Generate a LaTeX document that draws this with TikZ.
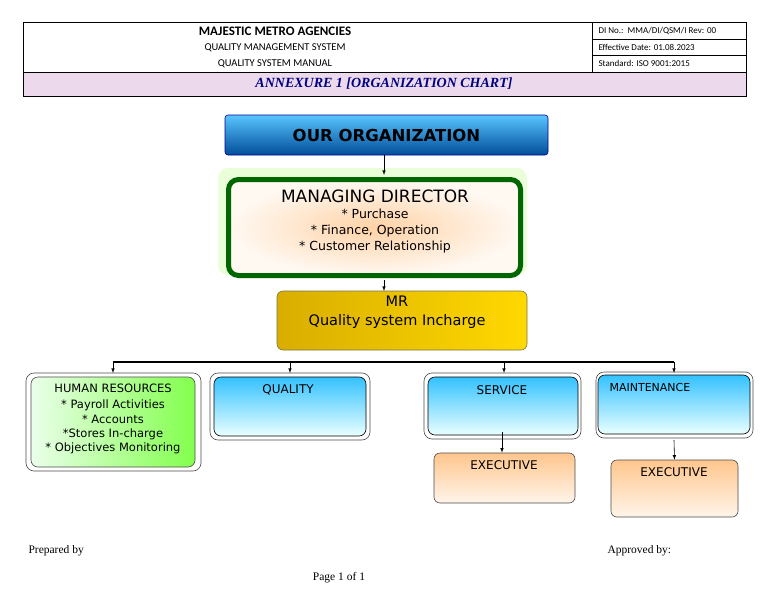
\documentclass[tikz,border=0pt]{standalone}
\usepackage{fontspec}
\setmainfont{DejaVu Sans}
\newfontfamily\hdr{Carlito}
\newfontfamily\tms{Liberation Serif}
\begin{document}
\begin{tikzpicture}[x=1pt,y=-1pt,
 arr/.style={-latex,black,line width=0.6pt},
 outerb/.style={draw=black!70,line width=0.6pt,rounded corners=8pt,fill=white},
 blueb/.style={draw=black,line width=0.6pt,rounded corners=7pt,top color=cyan!70!blue!80,bottom color=cyan!8},
 exb/.style={draw=black!70,line width=0.6pt,rounded corners=6pt,top color=orange!45,bottom color=orange!8},
 lbl/.style={font=\fontsize{12}{14}\selectfont,align=center}]
\useasboundingbox (0,0) rectangle (768,594);
\fill[white] (0,0) rectangle (768,594);
% header
\fill[violet!15] (23,72) rectangle (746,96);
\draw[line width=0.6pt] (23,22) rectangle (746,96);
\draw[line width=0.6pt] (23,72) -- (746,72);
\draw[line width=0.6pt] (592,22) -- (592,72);
\draw[line width=0.6pt] (592,39) -- (746,39) (592,55) -- (746,55);
\node[font=\hdr\bfseries\fontsize{13}{15}\selectfont] (h1) at (275,31) {MAJESTIC METRO AGENCIES};
\node[font=\hdr\fontsize{10.5}{12}\selectfont] (h2) at (275,48) {QUALITY MANAGEMENT SYSTEM};
\node[font=\hdr\fontsize{10.5}{12}\selectfont] (h3) at (275,64) {QUALITY SYSTEM MANUAL};
\node[font=\hdr\fontsize{9}{10}\selectfont,anchor=west] (d1) at (595,31) {DI No.:\ \ MMA/DI/QSM/I Rev: 00};
\node[font=\hdr\fontsize{9}{10}\selectfont,anchor=west] (d2) at (595,47) {Effective Date: 01.08.2023};
\node[font=\hdr\fontsize{9}{10}\selectfont,anchor=west] (d3) at (595,63) {Standard: ISO 9001:2015};
\node[font=\tms\bfseries\itshape\fontsize{14}{16}\selectfont,text=blue!50!black] (ann) at (384,84) {ANNEXURE 1 [ORGANIZATION CHART]};
% top
\node[draw=blue!60!black,line width=0.6pt,rounded corners=3pt,top color=blue!35!cyan!65!white,bottom color=blue!50!cyan!60!black,minimum width=323pt,minimum height=40pt,font=\bfseries\fontsize{16.5}{18}\selectfont] (org) at (386.5,135) {OUR ORGANIZATION};
\fill[green!40!lime!15,rounded corners=10pt] (218,168) rectangle (527,275);
\node[draw=green!40!black,line width=5pt,rounded corners=10pt,inner color=orange!35,outer color=orange!5,minimum width=292pt,minimum height=96pt] (md) at (374.5,227.5) {};
\node[align=center,font=\fontsize{12.5}{16}\selectfont] (mdt) at (375,221) {{\fontsize{17}{19}\selectfont MANAGING DIRECTOR}\\* Purchase\\* Finance, Operation\\* Customer Relationship};
\node[draw=yellow!40!black,line width=0.6pt,rounded corners=6pt,left color=yellow!60!orange!85!black,right color=yellow!70!orange,minimum width=250pt,minimum height=59pt] (mr) at (402,320.5) {};
\node[align=center,font=\fontsize{14.5}{19}\selectfont] (mrt) at (397,312) {MR\\Quality system Incharge};
\draw[arr] (org.south -| 384,0) -- (384,175);
\draw[arr] (384,280) -- (384,291);
% bus
\coordinate (b1) at (113,362); \coordinate (b4) at (674,362);
\draw[line width=1.6pt] (b1) -- (b4);
% HR
\draw[outerb] (26,373) rectangle (201,471);
\node[draw=black!70,line width=0.6pt,rounded corners=7pt,left color=green!8,right color=green!60!lime!70,minimum width=164pt,minimum height=90pt] (hr) at (113,422) {};
\node[align=center,font=\fontsize{11.5}{14.2}\selectfont] (hrt) at (113,419) {HUMAN RESOURCES\\[2pt]* Payroll Activities\\* Accounts\\*Stores In-charge\\* Objectives Monitoring};
% Quality
\draw[outerb] (210,373) rectangle (370,440);
\node[blueb,minimum width=152pt,minimum height=59pt] (q) at (290,406.5) {};
\node[lbl] at (288,390) {QUALITY};
% Service
\draw[outerb] (424,373) rectangle (581,439);
\node[blueb,minimum width=150pt,minimum height=58pt] (s) at (503,406) {};
\node[lbl] at (502,390) {SERVICE};
% Maintenance
\draw[outerb] (596,372) rectangle (753,438);
\node[blueb,minimum width=152pt,minimum height=59pt] (m) at (674,404.5) {};
\node[lbl,font=\fontsize{11}{13}\selectfont,anchor=west] at (606,387) {MAINTENANCE};
% executives
\node[exb,minimum width=141pt,minimum height=50pt] (e1) at (504.5,478) {};
\node[lbl] at (504,465) {EXECUTIVE};
\node[exb,minimum width=127pt,minimum height=57pt] (e2) at (674.5,488.5) {};
\node[lbl] at (674,472) {EXECUTIVE};
\draw[arr] (b1) -- (113,373);
\draw[arr] (290,362) -- (290,373);
\draw[arr] (504,362) -- (504,373);
\draw[arr] (b4) -- (674,373);
\draw[arr] (502,432) -- (e1.north -| 502,0);
\draw[arr] (674,440) -- (e2.north);
% footer
\node[font=\tms\fontsize{11.5}{13}\selectfont,anchor=west] (p) at (25,551) {Prepared by};
\node[font=\tms\fontsize{11.5}{13}\selectfont,anchor=west] (a) at (604,551) {Approved by:};
\node[font=\tms\fontsize{11.5}{13}\selectfont] (pg) at (339,578) {Page 1 of 1};
\end{tikzpicture}
\end{document}
